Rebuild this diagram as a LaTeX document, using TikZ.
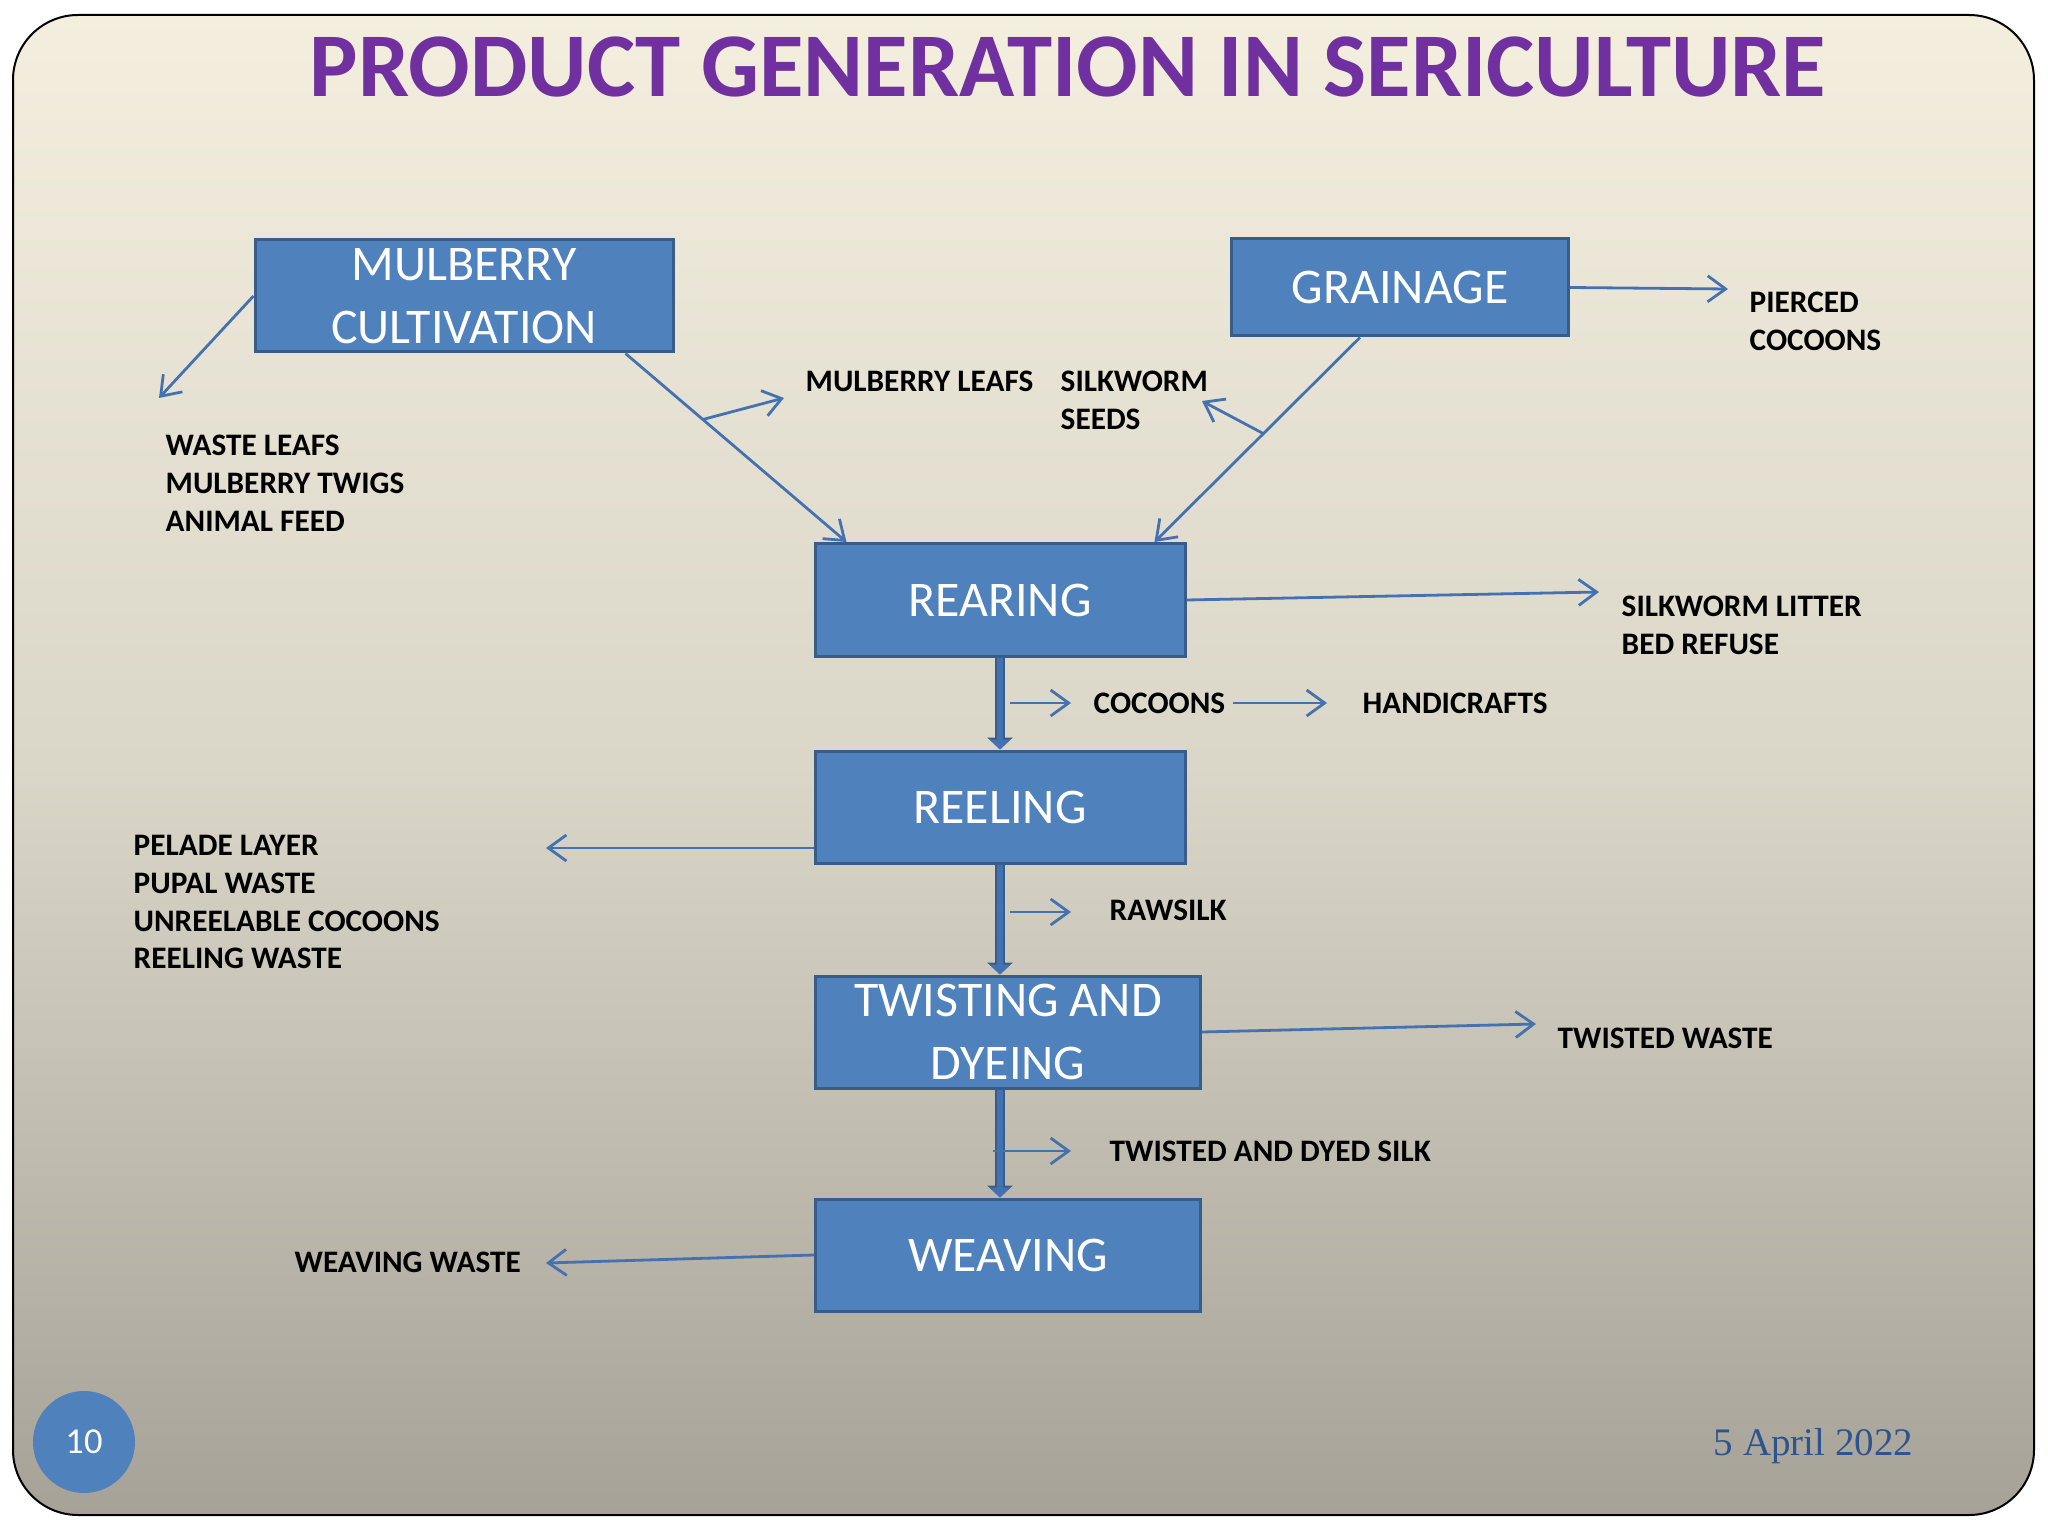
\documentclass[tikz,border=0pt]{standalone}
\usepackage{fontspec}
\setmainfont{Carlito}
\newfontfamily\datefont{Liberation Serif}
\usetikzlibrary{arrows.meta, positioning, calc}

\definecolor{boxblue}{RGB}{79,129,189}
\definecolor{boxedge}{RGB}{56,93,138}
\definecolor{linecol}{RGB}{68,114,176}
\definecolor{titlepurple}{RGB}{112,48,160}
\definecolor{datecol}{RGB}{45,84,142}
\definecolor{bgtop}{RGB}{243,238,222}
\definecolor{bgmid}{RGB}{218,214,200}
\definecolor{bgbot}{RGB}{166,162,152}

\begin{document}
\begin{tikzpicture}[
    box/.style={draw=boxedge, line width=0.03cm, fill=boxblue, text=white, inner sep=0pt, align=center, minimum height=1.12cm, font=\fontsize{14.2}{17.8}\selectfont},
    lbl/.style={anchor=west, inner sep=0pt, align=left, font=\bfseries\fontsize{8.9}{10.8}\selectfont},
    arr/.style={draw=linecol, line width=0.028cm, -{Straight Barb[length=0.18cm, width=0.26cm]}},
    trunk/.style={draw=linecol, line width=0.06cm, -{Triangle[length=0.1cm, width=0.2cm]},
        preaction={draw=boxedge, line width=0.1cm, -{Triangle[length=0.12cm, width=0.25cm]}}},
]

% Slide background
\useasboundingbox (0,0) rectangle (20.48,-15.36);
\shadedraw[top color=bgtop, bottom color=bgbot, middle color=bgmid, draw=black, line width=0.02cm, rounded corners=0.65cm]
    (0.13,-0.15) rectangle (20.34,-15.15);

% Title
\node[font=\bfseries\fontsize{25.9}{30}\selectfont, text=titlepurple, inner sep=0pt] (title) at (10.68,-0.67) {PRODUCT GENERATION IN SERICULTURE};

% Process boxes
\node[box, minimum width=4.18cm] (mulb) at (4.64,-2.96) {MULBERRY\\CULTIVATION};
\node[box, minimum width=3.37cm, minimum height=0.97cm] (grain) at (14.00,-2.875) {GRAINAGE};
\node[box, minimum width=3.70cm, minimum height=1.13cm] (rear) at (10.00,-6.00) {REARING};
\node[box, minimum width=3.70cm] (reel) at (10.00,-8.07) {REELING};
\node[box, minimum width=3.85cm] (twist) at (10.08,-10.32) {TWISTING AND\\DYEING};
\node[box, minimum width=3.85cm] (weave) at (10.08,-12.55) {WEAVING};

% Products and wastes
\node[lbl] (waste) at (1.65,-4.83) {WASTE LEAFS\\MULBERRY TWIGS\\ANIMAL FEED};
\node[lbl] (leafs) at (8.05,-3.81) {MULBERRY LEAFS};
\node[lbl] (seeds) at (10.60,-4.00) {SILKWORM\\SEEDS};
\node[lbl] (pierced) at (17.49,-3.21) {PIERCED\\COCOONS};
\node[lbl] (litter) at (16.21,-6.25) {SILKWORM LITTER\\BED REFUSE};
\node[lbl] (cocoons) at (10.93,-7.03) {COCOONS};
\node[lbl] (handi) at (13.62,-7.03) {HANDICRAFTS};
\node[lbl] (pelade) at (1.33,-9.02) {PELADE LAYER\\PUPAL WASTE\\UNREELABLE COCOONS\\REELING WASTE};
\node[lbl] (rawsilk) at (11.09,-9.10) {RAWSILK};
\node[lbl] (twwaste) at (15.57,-10.38) {TWISTED WASTE};
\node[lbl] (tds) at (11.09,-11.51) {TWISTED AND DYED SILK};
\node[lbl] (wwaste) at (2.94,-12.62) {WEAVING WASTE};

% Footer
\node[circle, fill=boxblue, minimum size=1.02cm, inner sep=0pt, text=white, font=\fontsize{10.4}{12}\selectfont] (pnum) at (0.84,-14.42) {10};
\node[anchor=base east, inner sep=0pt, text=datecol, font=\datefont\fontsize{11.1}{13}\selectfont] (date) at (19.14,-14.55) {5 April 2022};

% Arrow ends
\coordinate (wasteTip) at (1.59,-3.98);
\coordinate (leafTip) at (7.84,-3.98);
\coordinate (seedTip) at (12.02,-4.01);
\coordinate (pierceTip) at (17.28,-2.89);
\coordinate (litterTip) at (15.99,-5.92);
\coordinate (cocFork) at (10.10,-7.03);
\coordinate (cocTip) at (10.71,-7.03);
\coordinate (pelTip) at (5.46,-8.48);
\coordinate (rawFork) at (10.10,-9.12);
\coordinate (rawTip) at (10.71,-9.12);
\coordinate (twTip) at (15.36,-10.24);
\coordinate (tdsFork) at (9.93,-11.51);
\coordinate (tdsTip) at (10.71,-11.51);
\coordinate (wwTip) at (5.46,-12.63);

% === ARROWS ===
% mulberry and grainage -> rearing
\draw[arr] (mulb.west) -- (wasteTip);
\draw[arr] ([xshift=-0.49cm]mulb.south east) -- coordinate[pos=0.35] (leafFork) ([xshift=0.33cm]rear.north west);
\draw[arr] (leafFork) -- (leafTip);
\draw[arr] ([xshift=-0.40cm]grain.south) -- coordinate[pos=0.47] (seedFork) ([xshift=-0.32cm]rear.north east);
\draw[arr] (seedFork) -- (seedTip);
\draw[arr] (grain.east) -- (pierceTip);

% main line
\draw[trunk] (rear.south) -- (reel.north);
\draw[trunk] (reel.south) -- (reel.south |- twist.north);
\draw[trunk] (reel.south |- twist.south) -- (reel.south |- weave.north);

% side products
\draw[arr] (rear.east) -- (litterTip);
\draw[arr] (cocFork) -- (cocTip);
\draw[arr, shorten <=0.07cm, shorten >=0.35cm] (cocoons) -- (handi);
\draw[arr] (reel.west |- pelTip) -- (pelTip);
\draw[arr] (rawFork) -- (rawTip);
\draw[arr] (twist.east) -- (twTip);
\draw[arr] (tdsFork) -- (tdsTip);
\draw[arr] (weave.west) -- (wwTip);

\end{tikzpicture}
\end{document}
